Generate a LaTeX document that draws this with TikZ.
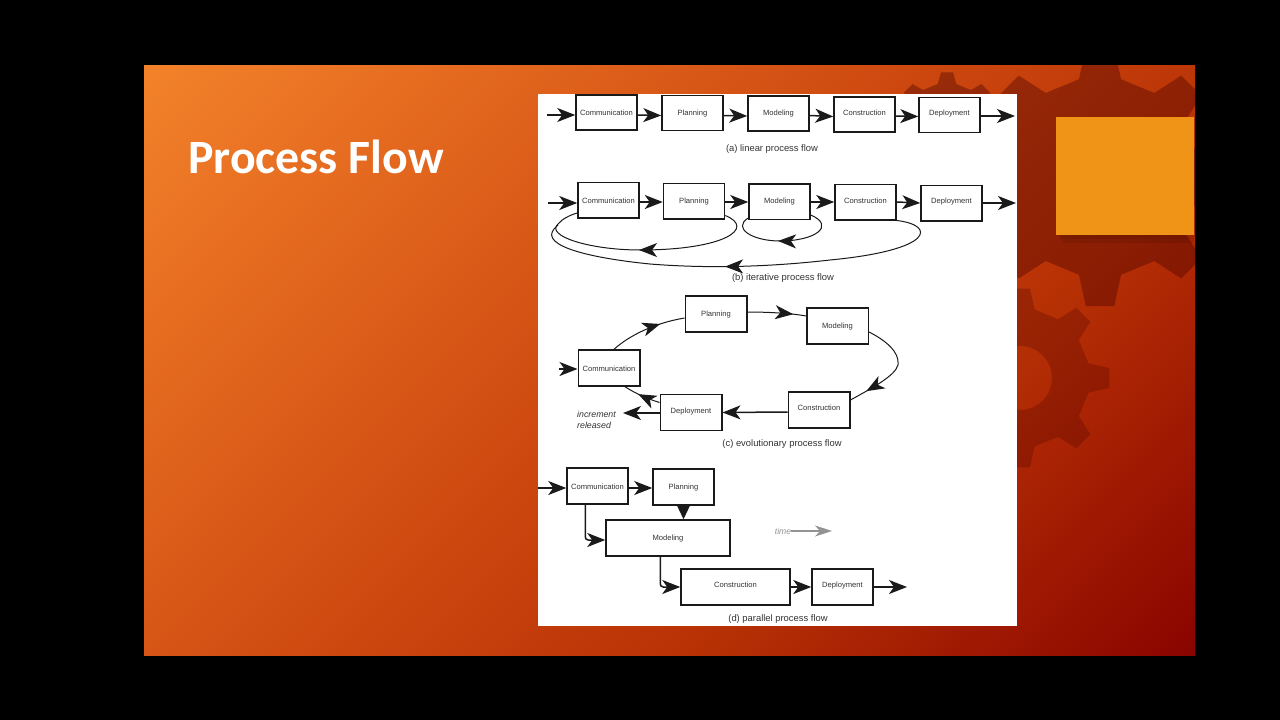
\documentclass[tikz,border=0pt]{standalone}
\usepackage{fontspec}
\setmainfont{Liberation Sans}
\newfontfamily\titlefont{Carlito}
\usetikzlibrary{arrows.meta,decorations.markings}
\definecolor{ink}{HTML}{1A1A1A}
\definecolor{txt}{HTML}{333333}
\definecolor{boxorange}{HTML}{EF9416}
\definecolor{gsa}{HTML}{F2822A}
\definecolor{gsb}{HTML}{E4691F}
\definecolor{gsc}{HTML}{CC470F}
\definecolor{gsd}{HTML}{B63005}
\definecolor{gse}{HTML}{8A0400}
\pgfdeclarehorizontalshading{slidebg}{1300bp}{color(0bp)=(gsa); color(40bp)=(gsa); color(270bp)=(gsb); color(595bp)=(gsc); color(850bp)=(gsd); color(1192bp)=(gse); color(1232bp)=(gse)}
\newcommand{\geardraw}[4]{% teeth, outer radius, root radius, hole radius
  \pgfmathsetmacro{\gstep}{360/#1}
  \pgfmathsetmacro{\gtipw}{\gstep*0.14}
  \pgfmathsetmacro{\grootw}{\gstep*0.27}
  \fill[gearfill] ({-\grootw}:#3)
  \foreach \gi in {1,...,#1}{
    -- ({\gstep*(\gi-1)-\gtipw}:#2) -- ({\gstep*(\gi-1)+\gtipw}:#2)
    -- ({\gstep*(\gi-1)+\grootw}:#3) -- ({\gstep*\gi-\grootw}:#3)
  } -- cycle (0,0) circle (#4);}
\tikzset{
  x=1pt,y=-1pt,
  boxn/.style={draw=ink,line width=1.5pt,fill=white,inner sep=0pt,text=txt,text height=6pt,text depth=1.6pt,font=\fontsize{7.6}{8}\selectfont},
  capn/.style={inner sep=0pt,text=txt,font=\fontsize{9.4}{10}\selectfont},
  flow/.style={draw=ink,line width=1.5pt,-{Stealth[length=18pt,width=14pt,inset=5pt]}},
  curveflow/.style={draw=ink,line width=1pt,postaction=decorate},
  tipat/.style={decoration={markings,mark=at position #1 with {\arrow{Stealth[length=18pt,width=14pt,inset=5pt]}}}},
  gearfill/.style={fill=black!55!red!60!black,fill opacity=.38,even odd rule}
}
\begin{document}
\begin{tikzpicture}
\useasboundingbox (0,0) rectangle (1280,720);
\fill[black] (0,0) rectangle (1280,720);
\begin{scope}
  \clip (144,65) rectangle (1195,655);
  \node[rotate=-45,inner sep=0pt] (slidegrad) at (669.5,360) {\pgfuseshading{slidebg}};
  \begin{scope}[shift={(1100,177)}]
    \geardraw{8}{130}{100}{0}
  \end{scope}
  \begin{scope}[shift={(947,127)}]
    \geardraw{8}{55}{44}{0}
  \end{scope}
  \begin{scope}[shift={(1020,378)},gearfill/.append style={fill opacity=.26}]
    \geardraw{8}{90}{70}{32}
  \end{scope}
\end{scope}
\fill[black,opacity=.14] (1060,235) rectangle (1194,239);
\fill[black,opacity=.09] (1062,239) rectangle (1194,243);
\node[draw=none,fill=boxorange,minimum width=138pt,minimum height=118pt,inner sep=0pt] (accent) at (1125,176) {};
\node[anchor=west,inner sep=0pt,text=white,font=\titlefont\bfseries\fontsize{47.8}{50}\selectfont] (title) at (188,157) {Process Flow};
\node[fill=white,minimum width=479pt,minimum height=532pt,inner sep=0pt] (panel) at (777.5,360) {};

% (a)
\foreach \n/\t/\cx/\cy/\r in {acomm/Communication/606.5/112.5/-1,aplan/Planning/692.5/113/-.5,amod/Modeling/778.5/113.5/0,acons/Construction/864.5/114.5/1,adep/Deployment/949.5/115/1.5}{
  \node[boxn,minimum width=61pt,minimum height=35pt] (\n) at (\cx,\cy) {\raisebox{\r pt}{\t}};
}
\coordinate (ain) at (547,115);
\coordinate (aout) at (1015,116);
\draw[flow] (ain) -- (ain -| acomm.west);
\draw[flow] ([yshift=-2.5pt]acomm.east) -- ([yshift=-2.5pt]aplan.west);
\draw[flow] ([yshift=-2.5pt]aplan.east) -- ([yshift=-2.5pt]amod.west);
\draw[flow] ([yshift=-2pt]amod.east) -- ([yshift=-2pt]acons.west);
\draw[flow] ([yshift=-1.5pt]acons.east) -- ([yshift=-1.5pt]adep.west);
\draw[flow] (aout -| adep.east) -- (aout);
\node[capn] (acap) at (772,149) {(a) linear process flow};

% (b)
\foreach \n/\t/\cx/\cy/\r in {bcomm/Communication/608.5/200/-1.5,bplan/Planning/694/201/-.5,bmod/Modeling/779.5/201.5/0,bcons/Construction/865.5/202/.5,bdep/Deployment/951.5/203/1.5}{
  \node[boxn,minimum width=61pt,minimum height=35.5pt] (\n) at (\cx,\cy) {\raisebox{\r pt}{\t}};
}
\coordinate (bin) at (548,203);
\coordinate (bout) at (1016,203);
\draw[flow] (bin) -- (bin -| bcomm.west);
\draw[flow] ([yshift=-2pt]bcomm.east) -- ([yshift=-1pt]bplan.west);
\draw[flow] ([yshift=-1pt]bplan.east) -- ([yshift=-.5pt]bmod.west);
\draw[flow] ([yshift=-.5pt]bmod.east) -- ([yshift=0pt]bcons.west);
\draw[flow] ([yshift=0pt]bcons.east) -- ([yshift=0pt]bdep.west);
\draw[flow] (bout -| bdep.east) -- (bout);
\draw[curveflow,tipat=.51] ([yshift=4pt]bplan.south east) .. controls (756,228) and (725,250) .. (640,250) .. controls (590,250) and (545,236) .. (558,224) .. controls (562,219) and (570,215) .. ([yshift=-13pt]bcomm.west);
\draw[curveflow,tipat=.56] ([yshift=5pt]bmod.south east) .. controls (836,226) and (815,241) .. (780,241) .. controls (752,241) and (732,228) .. ([yshift=2pt]bmod.south west);
\draw[curveflow,tipat=.545] (bcons.south east) .. controls (936,225) and (935,250) .. (830,260) .. controls (760,268) and (700,268) .. (650,264) .. controls (590,258) and (540,246) .. (554,229) .. controls (556,227) .. (558,225);
\node[capn] (bcap) at (783,278) {(b) iterative process flow};

% (c)
\foreach \n/\t/\cx/\cy/\r in {ccomm/Communication/609/368/-1.5,cplan/Planning/716/314/-.5,cmod/Modeling/837.5/326/-.5,cdep/Deployment/691/412.5/1,ccons/Construction/819/410/1.5}{
  \node[boxn,minimum width=61.5pt,minimum height=36pt] (\n) at (\cx,\cy) {\raisebox{\r pt}{\t}};
}
\coordinate (cin) at (559,369);
\draw[flow] (cin) -- (cin -| ccomm.west);
\draw[curveflow,tipat=.68] ([xshift=5pt]ccomm.north) .. controls (630,335) and (655,323) .. ([yshift=-4pt]cplan.west);
\draw[curveflow,tipat=.78] ([yshift=2pt]cplan.east) .. controls (765,312) and (790,313) .. ([yshift=10pt]cmod.west);
\draw[curveflow,tipat=.83] ([yshift=-6pt]cmod.east) .. controls (885,340) and (900,352) .. (898,365) .. controls (895,376) and (872,388) .. ([yshift=10pt]ccons.east);
\draw[flow] ([yshift=-2pt]ccons.west) -- (cdep.east);
\draw[curveflow,tipat=.6] ([yshift=10pt]cdep.west) .. controls (645,398) and (635,393) .. ([xshift=16pt]ccomm.south);
\coordinate (crel) at (623,413);
\draw[flow] (crel -| cdep.west) -- (crel);
\node[inner sep=0pt,align=left,text=txt,font=\itshape\fontsize{8.8}{11}\selectfont] (crelt) at (596.5,419.5) {increment\\released};
\node[capn] (ccap) at (782,444) {(c) evolutionary process flow};

% (d)
\node[boxn,minimum width=61pt,minimum height=36pt] (dcomm) at (597.5,486) {\raisebox{-1.5pt}{Communication}};
\node[boxn,minimum width=61pt,minimum height=36pt] (dplan) at (683.5,487) {\raisebox{-.5pt}{Planning}};
\node[boxn,minimum width=124pt,minimum height=36pt] (dmod) at (668,538) {\raisebox{-.5pt}{Modeling}};
\node[boxn,minimum width=109pt,minimum height=36pt] (dcons) at (735.5,587) {\raisebox{1.5pt}{Construction}};
\node[boxn,minimum width=61pt,minimum height=36pt] (ddep) at (842.5,587) {\raisebox{1.5pt}{Deployment}};
\coordinate (din) at (538,488);
\coordinate (dout) at (907,587);
\draw[flow] (din) -- (din -| dcomm.west);
\draw[flow] ([yshift=-2pt]dcomm.east) -- ([yshift=-1pt]dplan.west);
\draw[draw=ink,line width=1.5pt,-{Stealth[length=15pt,width=14pt,inset=0.5pt]}] (dplan.south) -- (dplan.south |- dmod.north);
\coordinate (dca) at ([xshift=19pt]dcomm.south west);
\coordinate (dmb) at ([xshift=55pt]dmod.south west);
\draw[flow,rounded corners=3pt] (dca) |- ([yshift=-2pt]dmod.west);
\draw[flow,rounded corners=3pt] (dmb) |- (dcons.west);
\draw[flow] (dcons.east) -- (ddep.west);
\draw[flow] (ddep.east) -- (dout);
\node[inner sep=0pt,text=gray!85,font=\itshape\fontsize{8.6}{9}\selectfont] (dtime) at (783,531) {time};
\coordinate (dtimeend) at (832,531);
\draw[draw=gray!85,line width=1.1pt,-{Stealth[length=17pt,width=11pt,inset=5pt]}] (dtime.east) -- (dtimeend);
\node[capn] (dcap) at (778,619) {(d) parallel process flow};
\end{tikzpicture}
\end{document}
